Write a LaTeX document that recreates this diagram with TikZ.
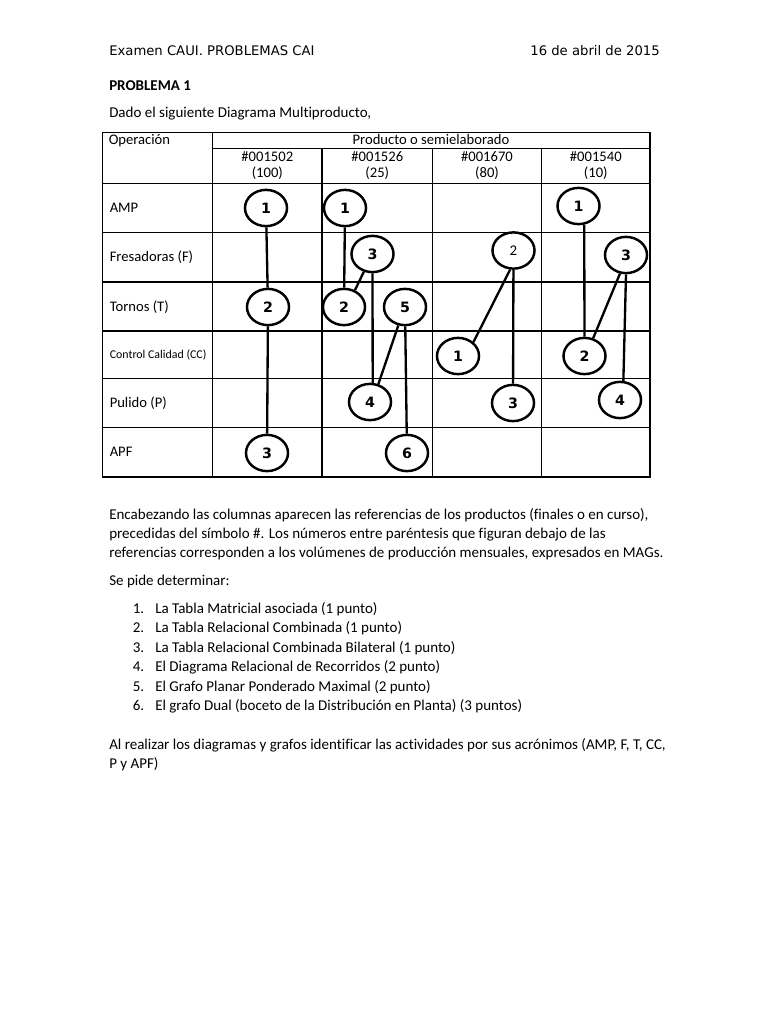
\documentclass[tikz,border=0pt]{standalone}
\usepackage{fontspec}
\setmainfont{Carlito}[Ligatures=NoCommon]
\newfontfamily\verdana{DejaVu Sans}
\usetikzlibrary{shapes.geometric}

\tikzset{
  op/.style={draw, ellipse, line width=1.9pt, minimum width=32.5pt, minimum height=28pt,
    inner sep=0pt, font=\verdana\bfseries\fontsize{11}{12}\selectfont},
  flow/.style={line width=1.8pt},
  grid/.style={line width=0.9pt},
  txt/.style={anchor=base west, inner sep=0pt, font=\fontsize{11.6}{13}\selectfont},
  cell/.style={anchor=base, inner sep=0pt, font=\fontsize{11.3}{12}\selectfont},
}

\begin{document}
\begin{tikzpicture}[x=0.773pt, y=-0.773pt]
  \useasboundingbox (0,0) rectangle (768,1024);
  % page header
  \node[txt, font=\verdana\fontsize{10.2}{12}\selectfont] (exam) at (109,55) {Examen CAUI. PROBLEMAS CAI};
  \node[txt, anchor=base east, font=\verdana\fontsize{10.2}{12}\selectfont] (date) at (660,55) {16 de abril de 2015};
  \node[txt, font=\bfseries\fontsize{11.6}{13}\selectfont] (prob) at (109,90) {PROBLEMA 1};
  \node[txt] (dado) at (109,117) {Dado el siguiente Diagrama Multiproducto,};
  % table
  \draw[grid] (102.5,132.5) rectangle (650,477);
  \foreach \y in {183.5,232.5,282,331,378.5,427.5} \draw[grid] (102.5,\y) -- (650,\y);
  \draw[grid] (212.5,148.5) -- (650,148.5);
  \draw[grid] (212.5,132.5) -- (212.5,477);
  \foreach \x in {322,432.5,541.5} \draw[grid] (\x,148.5) -- (\x,477);
  \node[cell, anchor=base west] (opcol) at (108.5,144.5) {Operación};
  \node[cell] (prodcol) at (431,144.5) {Producto o semielaborado};
  \node[cell] (ref1) at (267.3,161.5) {\#001502};
  \node[cell] (vol1) at (267.3,177) {(100)};
  \node[cell] (ref2) at (377.3,161.5) {\#001526};
  \node[cell] (vol2) at (377.3,177) {(25)};
  \node[cell] (ref3) at (487,161.5) {\#001670};
  \node[cell] (vol3) at (487,177) {(80)};
  \node[cell] (ref4) at (595.8,161.5) {\#001540};
  \node[cell] (vol4) at (595.8,177) {(10)};
  \node[txt, font=\fontsize{11.3}{12}\selectfont] (amp) at (109.5,212.5) {AMP};
  \node[txt, font=\fontsize{11.3}{12}\selectfont] (fres) at (109.5,261.5) {Fresadoras (F)};
  \node[txt, font=\fontsize{11.3}{12}\selectfont] (torn) at (109.5,311) {Tornos (T)};
  \node[txt, font=\fontsize{9.2}{10}\selectfont] (ctrl) at (109.5,358.5) {Control Calidad (CC)};
  \node[txt, font=\fontsize{11.3}{12}\selectfont] (pul) at (109.5,407.5) {Pulido (P)};
  \node[txt, font=\fontsize{11.3}{12}\selectfont] (apf) at (109.5,456.5) {APF};
  % operations
  \node[op] (a1) at (266,208) {1};
  \node[op] (a2) at (268,307) {2};
  \node[op] (a3) at (267,453) {3};
  \node[op] (b1) at (345,208) {1};
  \node[op] (b3) at (372.5,254) {3};
  \node[op] (b2) at (344,307) {2};
  \node[op] (b5) at (405,307) {5};
  \node[op] (b4) at (370,402) {4};
  \node[op] (b6) at (407,453) {6};
  \node[op, font=\fontsize{11.5}{13}\selectfont] (c2) at (513.5,250.5) {2};
  \node[op] (c1) at (458,356) {1};
  \node[op] (c3) at (513,403) {3};
  \node[op] (d1) at (578.5,206) {1};
  \node[op] (d3) at (626,255) {3};
  \node[op] (d2) at (584.5,356) {2};
  \node[op] (d4) at (620,400) {4};
  \draw[flow] (a1) -- (a2);
  \draw[flow] (a2) -- (a3);
  \draw[flow] (b1) -- (b2);
  \draw[flow] (b3.244) -- (b2.57);
  \draw[flow] (b3.south) -- (b4.82);
  \draw[flow] (b5.250) -- (b4.65);
  \draw[flow] (b5) -- (b6);
  \draw[flow] (c2.260) -- (c1.42);
  \draw[flow] (c2) -- (c3);
  \draw[flow] (d1.287) -- (d2.north);
  \draw[flow] (d3.252) -- (d2.64);
  \draw[flow] (d3.south) -- (d4.80);
  % statement
  \node[txt] (par1) at (109,519) {Encabezando las columnas aparecen las referencias de los productos (finales o en curso),};
  \node[txt] (par2) at (109,538) {precedidas del símbolo \#. Los números entre paréntesis que figuran debajo de las};
  \node[txt] (par3) at (109,557.5) {referencias corresponden a los volúmenes de producción mensuales, expresados en MAGs.};
  \node[txt] (ask) at (109,585.5) {Se pide determinar:};
  \node[txt] (n1) at (132.5,613) {1.};
  \node[txt] (n2) at (132.5,632.5) {2.};
  \node[txt] (n3) at (132.5,652) {3.};
  \node[txt] (n4) at (132.5,671.5) {4.};
  \node[txt] (n5) at (132.5,691) {5.};
  \node[txt] (n6) at (132.5,710.5) {6.};
  \node[txt] (i1) at (155,613) {La Tabla Matricial asociada (1 punto)};
  \node[txt] (i2) at (155,632.5) {La Tabla Relacional Combinada (1 punto)};
  \node[txt] (i3) at (155,652) {La Tabla Relacional Combinada Bilateral (1 punto)};
  \node[txt] (i4) at (155,671.5) {El Diagrama Relacional de Recorridos (2 punto)};
  \node[txt] (i5) at (155,691) {El Grafo Planar Ponderado Maximal (2 punto)};
  \node[txt] (i6) at (155,710.5) {El grafo Dual (boceto de la Distribución en Planta) (3 puntos)};
  \node[txt] (fin1) at (109,749) {Al realizar los diagramas y grafos identificar las actividades por sus acrónimos (AMP, F, T, CC,};
  \node[txt] (fin2) at (109,768.5) {P y APF)};
\end{tikzpicture}
\end{document}
